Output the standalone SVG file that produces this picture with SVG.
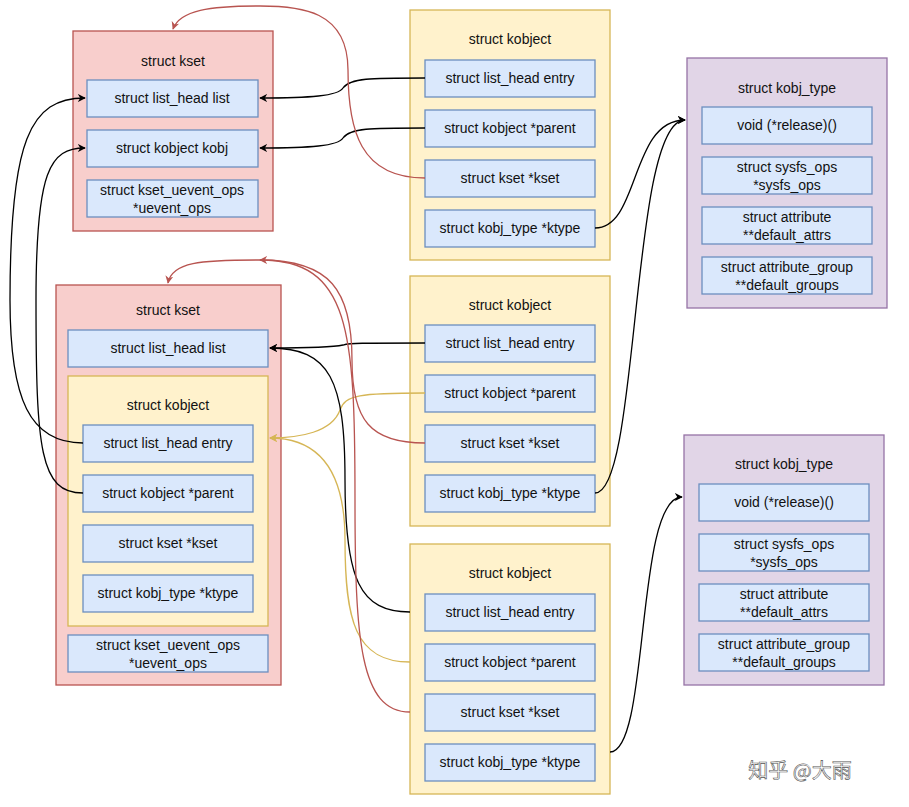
<svg xmlns="http://www.w3.org/2000/svg" width="909" height="807" viewBox="0 0 909 807">
<style>
text{font-family:"Liberation Sans",Arial,sans-serif;font-size:14px;fill:#111;text-anchor:middle}
.kset{fill:#f8cecc;stroke:#b85450;stroke-width:1.3}
.kobj{fill:#fff2cc;stroke:#d6b656;stroke-width:1.3}
.ktype{fill:#e1d5e7;stroke:#9673a6;stroke-width:1.3}
.f{fill:#dae8fc;stroke:#6c8ebf;stroke-width:1.3}
.c{fill:none;stroke-width:1.3}
.k{stroke:#000}
.r{stroke:#b85450}
.y{stroke:#d6b656}
</style>
<defs>
<marker id="ak" viewBox="0 0 10 10" refX="9" refY="5" markerWidth="8" markerHeight="8" orient="auto" markerUnits="userSpaceOnUse"><path d="M0,0 L10,5 L0,10 L3,5 Z" fill="#000"/></marker>
<marker id="ar" viewBox="0 0 10 10" refX="9" refY="5" markerWidth="8" markerHeight="8" orient="auto" markerUnits="userSpaceOnUse"><path d="M0,0 L10,5 L0,10 L3,5 Z" fill="#b85450"/></marker>
<marker id="ay" viewBox="0 0 10 10" refX="9" refY="5" markerWidth="8" markerHeight="8" orient="auto" markerUnits="userSpaceOnUse"><path d="M0,0 L10,5 L0,10 L3,5 Z" fill="#d6b656"/></marker>
</defs>
<g id="kset1">
<rect class="kset" x="73" y="31" width="200" height="200"/>
<text x="173" y="66">struct kset</text>
<rect class="f" x="87" y="80" width="171" height="37"/><text x="172" y="103">struct list_head list</text>
<rect class="f" x="87" y="130" width="171" height="37"/><text x="172" y="153">struct kobject kobj</text>
<rect class="f" x="87" y="180" width="171" height="37"/><text x="172" y="195">struct kset_uevent_ops</text><text x="172" y="213">*uevent_ops</text>
</g>
<g id="kobj1">
<rect class="kobj" x="410" y="10" width="200" height="250"/>
<text x="510" y="44">struct kobject</text>
<rect class="f" x="425" y="60" width="170" height="37"/><text x="510" y="83">struct list_head entry</text>
<rect class="f" x="425" y="110" width="170" height="37"/><text x="510" y="133">struct kobject *parent</text>
<rect class="f" x="425" y="160" width="170" height="37"/><text x="510" y="183">struct kset *kset</text>
<rect class="f" x="425" y="210" width="170" height="37"/><text x="510" y="233">struct kobj_type *ktype</text>
</g>
<g id="ktype1">
<rect class="ktype" x="687" y="58" width="200" height="250"/>
<text x="787" y="93">struct kobj_type</text>
<rect class="f" x="702" y="107" width="170" height="37"/><text x="787" y="130">void (*release)()</text>
<rect class="f" x="702" y="157" width="170" height="37"/><text x="787" y="172">struct sysfs_ops</text><text x="787" y="190">*sysfs_ops</text>
<rect class="f" x="702" y="207" width="170" height="37"/><text x="787" y="222">struct attribute</text><text x="787" y="240">**default_attrs</text>
<rect class="f" x="702" y="257" width="170" height="37"/><text x="787" y="272">struct attribute_group</text><text x="787" y="290">**default_groups</text>
</g>
<g id="kset2">
<rect class="kset" x="56" y="285" width="225" height="400"/>
<text x="168" y="315">struct kset</text>
<rect class="f" x="68" y="330" width="200" height="37"/><text x="168" y="353">struct list_head list</text>
<rect class="kobj" x="68" y="376" width="200" height="250"/>
<text x="168" y="410">struct kobject</text>
<rect class="f" x="83" y="425" width="170" height="37"/><text x="168" y="448">struct list_head entry</text>
<rect class="f" x="83" y="475" width="170" height="37"/><text x="168" y="498">struct kobject *parent</text>
<rect class="f" x="83" y="525" width="170" height="37"/><text x="168" y="548">struct kset *kset</text>
<rect class="f" x="83" y="575" width="170" height="37"/><text x="168" y="598">struct kobj_type *ktype</text>
<rect class="f" x="68" y="635" width="200" height="37"/><text x="168" y="650">struct kset_uevent_ops</text><text x="168" y="668">*uevent_ops</text>
</g>
<g id="kobj2">
<rect class="kobj" x="410" y="276" width="200" height="250"/>
<text x="510" y="310">struct kobject</text>
<rect class="f" x="425" y="325" width="170" height="37"/><text x="510" y="348">struct list_head entry</text>
<rect class="f" x="425" y="375" width="170" height="37"/><text x="510" y="398">struct kobject *parent</text>
<rect class="f" x="425" y="425" width="170" height="37"/><text x="510" y="448">struct kset *kset</text>
<rect class="f" x="425" y="475" width="170" height="37"/><text x="510" y="498">struct kobj_type *ktype</text>
</g>
<g id="ktype2">
<rect class="ktype" x="684" y="435" width="200" height="250"/>
<text x="784" y="469">struct kobj_type</text>
<rect class="f" x="699" y="484" width="170" height="37"/><text x="784" y="507">void (*release)()</text>
<rect class="f" x="699" y="534" width="170" height="37"/><text x="784" y="549">struct sysfs_ops</text><text x="784" y="567">*sysfs_ops</text>
<rect class="f" x="699" y="584" width="170" height="37"/><text x="784" y="599">struct attribute</text><text x="784" y="617">**default_attrs</text>
<rect class="f" x="699" y="634" width="170" height="37"/><text x="784" y="649">struct attribute_group</text><text x="784" y="667">**default_groups</text>
</g>
<g id="kobj3">
<rect class="kobj" x="410" y="544" width="200" height="250"/>
<text x="510" y="578">struct kobject</text>
<rect class="f" x="425" y="594" width="170" height="37"/><text x="510" y="617">struct list_head entry</text>
<rect class="f" x="425" y="644" width="170" height="37"/><text x="510" y="667">struct kobject *parent</text>
<rect class="f" x="425" y="694" width="170" height="37"/><text x="510" y="717">struct kset *kset</text>
<rect class="f" x="425" y="744" width="170" height="37"/><text x="510" y="767">struct kobj_type *ktype</text>
</g>
<g id="connectors">
<path class="c k" marker-end="url(#ak)" d="M425,78 C370,78 350,78 343,88 C338,96 310,98 260,98"/>
<path class="c k" marker-end="url(#ak)" d="M425,128 C370,128 350,128 343,138 C338,146 310,148 260,148"/>
<path class="c r" marker-end="url(#ar)" d="M425,178 C360,178 348,130 348,70 C348,10 300,6 260,6 C210,6 180,10 173,29"/>
<path class="c k" marker-end="url(#ak)" d="M595,228 C640,228 630,120 685,120"/>
<path class="c k" marker-end="url(#ak)" d="M83,443 C30,443 10,400 10,300 C10,140 30,98 85,98"/>
<path class="c k" marker-end="url(#ak)" d="M83,493 C40,493 36,450 36,300 C36,170 50,148 85,148"/>
<path class="c k" marker-end="url(#ak)" d="M425,343 C360,343 350,343 343,345 C330,348 300,348 270,348"/>
<path class="c y" marker-end="url(#ay)" d="M425,393 C360,393 345,395 340,410 C332,432 300,438 270,438"/>
<path class="c r" marker-end="url(#ar)" d="M425,443 C370,443 352,420 352,360 C352,290 330,260 260,260 C200,260 172,262 168,283"/>
<path class="c k" marker-end="url(#ak)" d="M595,493 C640,493 630,120 685,120"/>
<path class="c k" marker-end="url(#ak)" d="M410,612 C360,612 345,580 345,480 C345,380 330,348 270,348"/>
<path class="c y" marker-end="url(#ay)" d="M410,662 C355,662 345,620 345,540 C345,460 310,438 270,438"/>
<path class="c r" marker-end="url(#ar)" d="M410,712 C360,712 355,640 355,500 C355,330 350,260 260,260"/>
<path class="c k" marker-end="url(#ak)" d="M610,752 C650,752 635,497 682,497"/>
</g>
<text x="800" y="778" style="font-family:'Noto Sans CJK SC',sans-serif;font-size:20px;fill:#fff;stroke:#555;stroke-width:0.6">知乎 @大雨</text>
</svg>
